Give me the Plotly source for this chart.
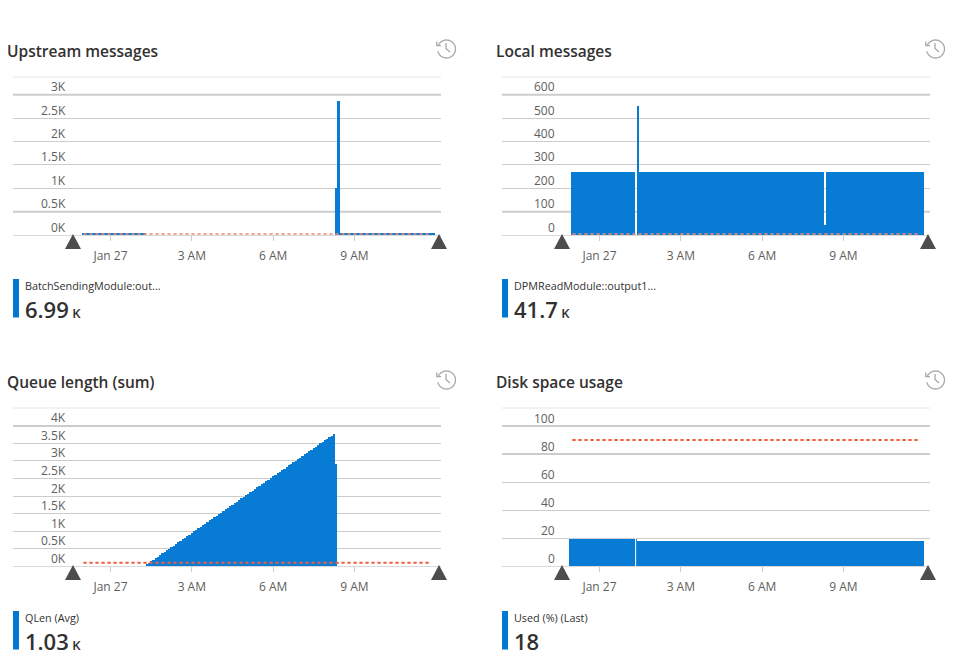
import numpy as np
import pandas as pd
import plotly.graph_objects as go

W, H = 959, 658
BLUE = "#0078d4"
BAR_BLUE = "rgba(0,120,212,0.97)"
RED = "#f25c3f"
PALE_RED = "#ee8a72"
GRID = "#cccccc"
TEXT = "#323130"
TICK_TEXT = "#605e5c"
FONT = "Open Sans"

slot_times = pd.date_range("2020-01-26 22:55", periods=157, freq="5min")
threshold_times = ["2020-01-26 23:00", "2020-01-27 11:50"]

upstream_values = [
    0, 48, 46, 49, 47, 48, 45, 47, 49, 46, 48, 47, 45, 48, 46, 49, 47, 48, 46, 47,
    49, 45, 48, 46, 47, 49, 48, 46, 47,
    0, 0, 0, 0, 0, 0, 0, 0, 0, 0, 0, 0, 0, 0, 0, 0, 0, 0, 0, 0, 0,
    0, 0, 0, 0, 0, 0, 0, 0, 0, 0, 0, 0, 0, 0, 0, 0, 0, 0, 0, 0, 0,
    0, 0, 0, 0, 0, 0, 0, 0, 0, 0, 0, 0, 0, 0, 0, 0, 0, 0, 0, 0, 0,
    0, 0, 0, 0, 0, 0, 0, 0, 0, 0, 0, 0, 0, 0, 0, 0, 0, 0, 0, 0, 0,
    1000, 2870,
    46, 45, 47, 44, 46, 45, 48, 46, 44, 47, 45, 46, 44, 47, 45, 46, 48, 45, 44, 46,
    47, 45, 44, 46, 45, 47, 46, 44, 45, 47, 46, 45, 44, 46, 47, 45, 46, 44, 45, 47,
    46, 45,
]
local_values = [
    0, 270, 271, 269, 271, 270, 271, 270, 271, 269, 271, 270, 271, 270, 270, 269, 271, 270, 271, 270,
    271, 269, 271, 270, 271, 269, 271, 270, 271,
    0, 553,
    271, 270, 271, 269, 271, 270, 271, 269, 271, 270, 271, 270, 269, 271, 271, 270, 271, 269, 271, 270,
    271, 271, 269, 270, 271, 271, 269, 271, 270, 271, 269, 271, 270, 271, 270, 271, 269, 271, 270, 271,
    271, 269, 270, 271, 270, 271, 271, 269, 270, 271, 271, 270, 269, 271, 270, 271, 269, 271, 270, 271,
    270, 269, 271, 271, 270, 271, 269, 270, 271, 270, 271, 270, 269, 271, 270, 271, 270, 271, 269, 270,
    271, 270,
    43,
    271, 270, 269, 271, 271, 270, 271, 269, 271, 270, 271, 269, 271, 270, 271, 271, 270, 269, 271, 270,
    271, 269, 271, 270, 271, 270, 269, 271, 271, 270, 271, 269, 270, 271, 271, 270, 269, 271, 270, 271,
    271, 270, 271,
]
queue_values = [
    0, 0, 0, 0, 0, 0, 0, 0, 0, 0, 0, 0, 0, 0, 0, 0, 0, 0, 0, 0,
    0, 0, 0, 0, 0, 0, 0, 0, 0,
    45, 90, 135, 180, 225, 269, 314, 359, 404, 449,
    494, 539, 584, 629, 674, 718, 763, 808, 853, 898,
    943, 988, 1033, 1078, 1123, 1167, 1212, 1257, 1302, 1347,
    1392, 1437, 1482, 1527, 1572, 1616, 1661, 1706, 1751, 1796,
    1841, 1886, 1931, 1976, 2021, 2065, 2110, 2155, 2200, 2245,
    2290, 2335, 2380, 2425, 2470, 2514, 2559, 2604, 2649, 2694,
    2739, 2784, 2829, 2874, 2919, 2963, 3008, 3053, 3098, 3143,
    3188, 3233, 3278, 3323, 3368, 3412, 3457, 3502, 3547, 3592,
    3637, 3682, 3727, 3771,
    2914,
    0, 0, 0, 0, 0, 0, 0, 0, 0, 0, 0, 0, 0, 0, 0, 0, 0, 0, 0, 0, 0,
    0, 0, 0, 0, 0, 0, 0, 0, 0, 0, 0, 0, 0, 0, 0, 0, 0, 0, 0, 0, 0, 0,
]
disk_values = [
    19, 19, 19, 19, 19, 19, 19, 19, 19, 19, 19, 19, 19, 19, 19, 19, 19, 19, 19, 19,
    19, 19, 19, 19, 19, 19, 19, 19, 19, 19,
    18, 18, 18, 18, 18, 18, 18, 18, 18, 18, 18, 18, 18, 18, 18, 18, 18, 18, 18, 18,
    18, 18, 18, 18, 18, 18, 18, 18, 18, 18, 18, 18, 18, 18, 18, 18, 18, 18, 18, 18,
    18, 18, 18, 18, 18, 18, 18, 18, 18, 18, 18, 18, 18, 18, 18, 18, 18, 18, 18, 18,
    18, 18, 18, 18, 18, 18, 18, 18, 18, 18, 18, 18, 18, 18, 18, 18, 18, 18, 18, 18,
    18, 18, 18, 18, 18, 18, 18, 18, 18, 18, 18, 18, 18, 18, 18, 18, 18, 18, 18, 18,
    18, 18, 18, 18, 18, 18, 18, 18, 18, 18, 18, 18, 18, 18, 18, 18, 18, 18, 18, 18,
    18, 18, 18, 18, 18, 18, 18,
]

x_tick_times = ["2020-01-27 00:00", "2020-01-27 03:00", "2020-01-27 06:00", "2020-01-27 09:00"]
x_tick_labels = ["Jan 27", "3 AM", "6 AM", "9 AM"]
x_range = ["2020-01-26 20:24:07", "2020-01-27 12:11:42"]

panels = [
    dict(title="Upstream messages", values=upstream_values, threshold=20, top=3380,
         ticks=[0, 500, 1000, 1500, 2000, 2500, 3000],
         labels=["0K", "0.5K", "1K", "1.5K", "2K", "2.5K", "3K"], thick=[500, 3000],
         legend="BatchSendingModule:out...", total="6.99", unit="K", left=13, y0=77, y1=235,
         line_color=PALE_RED, line_width=1.5),
    dict(title="Local messages", values=local_values, threshold=4, top=676,
         ticks=[0, 100, 200, 300, 400, 500, 600],
         labels=["0", "100", "200", "300", "400", "500", "600"], thick=[100, 600],
         legend="DPMReadModule::output1...", total="41.7", unit="K", left=502, y0=77, y1=235,
         line_color=PALE_RED, line_width=1.5),
    dict(title="Queue length (sum)", values=queue_values, threshold=95, top=4514,
         ticks=[0, 500, 1000, 1500, 2000, 2500, 3000, 3500, 4000],
         labels=["0K", "0.5K", "1K", "1.5K", "2K", "2.5K", "3K", "3.5K", "4K"], thick=[4000],
         legend="QLen (Avg)", total="1.03", unit="K", left=13, y0=408, y1=566,
         line_color=RED, line_width=2),
    dict(title="Disk space usage", values=disk_values, threshold=90, top=112.9,
         ticks=[0, 20, 40, 60, 80, 100],
         labels=["0", "20", "40", "60", "80", "100"], thick=[80, 100],
         legend="Used (%) (Last)", total="18", unit="", left=502, y0=408, y1=566,
         line_color=RED, line_width=2),
]


def px(x):
    return x / W


def py(y):
    return 1 - y / H


def poly(points, close=False):
    path = "M " + " L ".join(f"{px(x):.5f},{py(y):.5f}" for x, y in points)
    return path + (" Z" if close else "")


def paper_line(points, color, width):
    return dict(type="path", xref="paper", yref="paper", path=poly(points),
                line=dict(color=color, width=width), layer="above")


def history_icon(cx, cy):
    # clock with a back arrow, the arc leaves a small gap on the left
    angles = np.radians(np.linspace(160, -165, 40))
    arc = [(cx + 9 * np.cos(a), cy - 9 * np.sin(a)) for a in angles]
    color = "#a8a8a8"
    return [
        paper_line(arc, color, 1.3),
        paper_line([(cx - 9.7, cy - 7.5), (cx - 9.7, cy - 3.3), (cx - 5.5, cy - 3.3)], color, 1.3),
        paper_line([(cx - 0.5, cy - 6), (cx - 0.5, cy - 0.5), (cx + 3.5, cy + 3)], color, 1.3),
    ]


def handle(cx, y_base):
    return dict(type="path", xref="paper", yref="paper", line=dict(width=0),
                fillcolor="#4d4d4d", layer="above",
                path=poly([(cx - 8, y_base + 14), (cx, y_base - 1), (cx + 8, y_base + 14)], close=True))


fig = go.Figure()
shapes = []
annotations = []

for n, p in enumerate(panels, start=1):
    suffix = "" if n == 1 else str(n)
    xa, ya = "x" + suffix, "y" + suffix
    left, y0, y1 = p["left"], p["y0"], p["y1"]
    # alpha just under 1 stops plotly snapping bars to whole pixels, the seams give the faint stripes
    fig.add_trace(go.Bar(x=slot_times, y=p["values"], marker=dict(color=BAR_BLUE, line=dict(width=0)),
                         xaxis=xa, yaxis=ya, showlegend=False))
    fig.add_trace(go.Scatter(x=threshold_times, y=[p["threshold"], p["threshold"]], mode="lines",
                             line=dict(color=p["line_color"], width=p["line_width"], dash="3.3px,2.7px"),
                             xaxis=xa, yaxis=ya, showlegend=False))
    fig.update_layout({
        "xaxis" + suffix: dict(domain=[px(left), px(left + 428)], anchor=ya, type="date", range=x_range,
                               tickmode="array", tickvals=x_tick_times, ticktext=x_tick_labels,
                               ticks="outside", ticklen=5, tickcolor=GRID, tickwidth=1,
                               ticklabelstandoff=5,
                               tickfont=dict(family=FONT, size=12, color=TICK_TEXT),
                               showgrid=False, showline=True, linecolor="#d9d9d9", zeroline=False),
        "yaxis" + suffix: dict(domain=[py(y1), py(y0)], anchor=xa, range=[0, p["top"]],
                               tickmode="array", tickvals=p["ticks"], showticklabels=False,
                               gridcolor=GRID, gridwidth=1, zeroline=False, ticks=""),
    })

    # top edge of the chart is a lighter rule, some gridlines come out heavier
    shapes.append(dict(type="line", xref=f"{xa} domain", yref=f"{ya} domain", x0=0, x1=1, y0=1, y1=1,
                       line=dict(color="#e6e6e6", width=1), layer="below"))
    for v in p["thick"]:
        shapes.append(dict(type="line", xref=f"{xa} domain", yref=ya, x0=0, x1=1, y0=v, y1=v,
                           line=dict(color=GRID, width=2), layer="below"))

    for v, label in zip(p["ticks"], p["labels"]):
        annotations.append(dict(xref=f"{xa} domain", yref=ya, x=54 / 428, y=v, text=label, showarrow=False,
                                xanchor="right", yanchor="bottom", yshift=-1.5, borderpad=0,
                                font=dict(family=FONT, size=12, color=TICK_TEXT)))

    annotations.append(dict(xref="paper", yref="paper", x=px(left - 7), y=py(y0 - 26), text=p["title"],
                            showarrow=False, xanchor="left", yanchor="middle", borderpad=0,
                            font=dict(family=FONT, size=15.5, color=TEXT, weight=600)))
    shapes.extend(history_icon(left + 433.5, y0 - 28))

    shapes.append(handle(left + 60, y1))
    shapes.append(handle(left + 426, y1))

    bar_top = y1 + 44 if y1 == 235 else y1 + 45
    shapes.append(dict(type="rect", xref="paper", yref="paper", x0=px(left), x1=px(left + 6),
                       y0=py(bar_top), y1=py(bar_top + 38.5), fillcolor=BLUE, line=dict(width=0)))
    annotations.append(dict(xref="paper", yref="paper", x=px(left + 11), y=py(bar_top + 6.5), text=p["legend"],
                            showarrow=False, xanchor="left", yanchor="middle", borderpad=0,
                            font=dict(family=FONT, size=10.8, color=TEXT)))
    unit = f'<span style="font-size:13px"> {p["unit"]}</span>' if p["unit"] else ""
    annotations.append(dict(xref="paper", yref="paper", x=px(left + 11), y=py(bar_top + 30),
                            text=p["total"] + unit, showarrow=False, xanchor="left", yanchor="middle",
                            borderpad=0, font=dict(family=FONT, size=22, color=TEXT, weight=600)))

# one thin white cut through the disk bars
shapes.append(dict(type="line", xref="x4", yref="y4 domain", x0="2020-01-27 01:20", x1="2020-01-27 01:20",
                   y0=0, y1=0.3, line=dict(color="#ffffff", width=1), layer="above"))

fig.update_layout(
    width=W, height=H, margin=dict(l=0, r=0, t=0, b=0),
    paper_bgcolor="white", plot_bgcolor="white",
    bargap=0, shapes=shapes, annotations=annotations,
)

fig.write_html("out.html", config=dict(displayModeBar=False),
               post_script="document.body.style.margin='0';document.body.style.overflow='hidden';")
